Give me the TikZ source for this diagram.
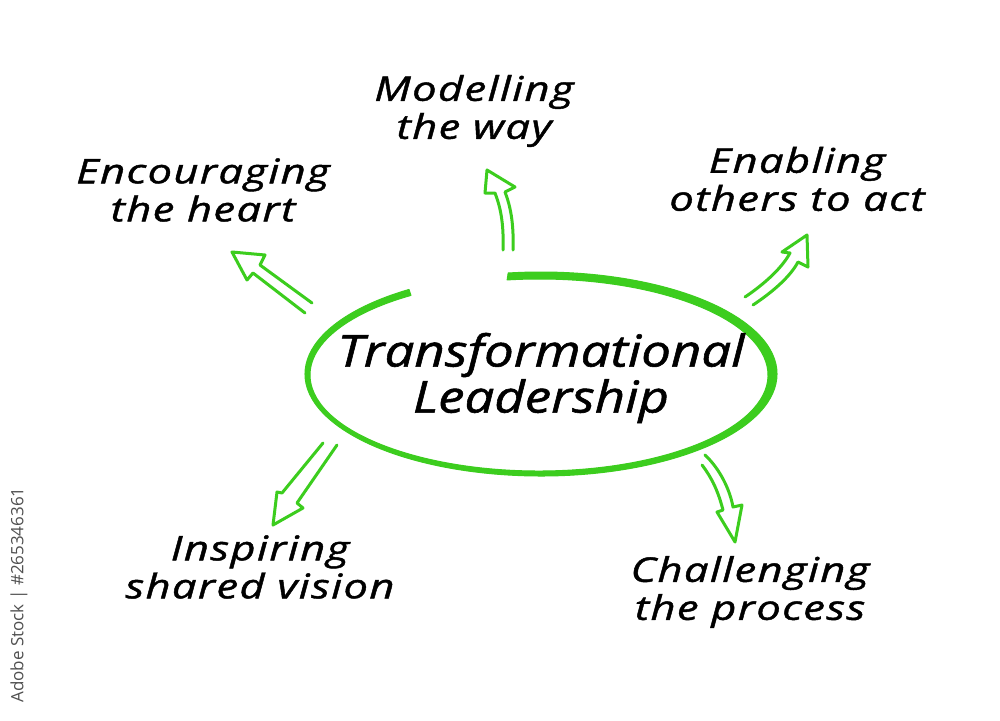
\documentclass[tikz,border=0pt]{standalone}
\usepackage{fontspec}
\newfontfamily\hand[FakeStretch=1.28,LetterSpace=4,FakeBold=1.3]{Open Sans}
\newfontfamily\handbig[FakeStretch=1.2,FakeBold=1.3]{Open Sans}
\newfontfamily\stockfont{Open Sans}
\definecolor{lgreen}{RGB}{60,205,30}
\definecolor{stockgray}{RGB}{80,80,80}
\begin{document}
\begin{tikzpicture}[x=1pt,y=-1pt,
  lab/.style={font=\hand\itshape\fontsize{34}{38}\selectfont, align=center, inner sep=0pt, text=black},
  biglab/.style={font=\handbig\itshape\fontsize{44}{46}\selectfont, align=center, inner sep=0pt, text=black},
  hollowarrow/.style={draw=lgreen, line width=3pt, line join=round, line cap=round},
  ring/.style={fill=lgreen, draw=lgreen, line width=1pt, line join=round}]
\useasboundingbox[fill=white] (0,0) rectangle (1000,720);

% central ellipse (open at the top), stroke thicker on the right
\coordinate (c) at (541,374);
\path[ring] (c) ++(236:236 and 102) arc[start angle=236, end angle=-98, x radius=236, y radius=102]
  -- ([shift={(539,375)}]-98:229 and 96) arc[start angle=-98, end angle=236, x radius=229, y radius=96] -- cycle;
\node[biglab] (center) at (541,378) {Transformational\\Leadership};

% labels
\node[lab] (model) at (474,111) {Modelling\\the way};
\node[lab] (heart) at (203,190) {Encouraging\\the heart};
\node[lab] (enable) at (797,179) {Enabling\\others to act};
\node[lab] (vision) at (260,567) {Inspiring\\shared vision};
\node[lab] (process) at (750,592) {Challenging\\the process};

% arrows
% to Encouraging the heart
\draw[hollowarrow] (312,303) -- (260,265) -- (265,255) -- (232,252) -- (247,280) -- (253,273) -- (305,313);
% to Modelling the way
\draw[hollowarrow] (513,250) .. controls (514,222) and (510,205) .. (505,192) -- (515,187) -- (487,170) -- (485,193) -- (495,193) .. controls (500,206) and (504,222) .. (503,250);
% to Enabling others to act
\draw[hollowarrow] (745,297) .. controls (760,287) and (781,270) .. (790,253) -- (782,252) -- (807,235) -- (808,267) -- (798,262) .. controls (789,279) and (768,295) .. (753,305);
% to Inspiring shared vision
\draw[hollowarrow] (323,443) -- (282,493) -- (277,492) -- (273,525) -- (303,508) -- (297,503) -- (337,445);
% to Challenging the process
\draw[hollowarrow] (705,455) .. controls (720,469) and (730,490) .. (733,507) -- (742,505) -- (735,542) -- (717,512) -- (723,510) .. controls (718,491) and (712,478) .. (702,465);

% side credit
\node[font=\stockfont\fontsize{17}{20}\selectfont, text=stockgray, rotate=90, inner sep=0pt] (credit) at (19,595) {Adobe Stock | \#265346361};
\end{tikzpicture}
\end{document}
